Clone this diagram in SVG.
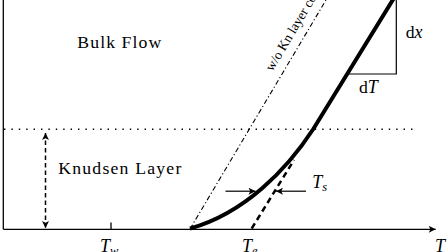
<svg xmlns="http://www.w3.org/2000/svg" width="448" height="252" viewBox="0 0 448 252">
<style>
.txt{font-family:"Liberation Serif","Times New Roman",serif;font-size:17.7px;fill:#000}
.math{font-family:"Liberation Serif","Times New Roman",serif;font-style:italic;font-size:18px;fill:#000}
.sub{font-size:12.5px}
.ax{stroke:#000;stroke-width:1.3;fill:none}
</style>
<defs>
<marker id="arr" viewBox="0 0 10 10" refX="10" refY="5" markerUnits="userSpaceOnUse" markerWidth="9" markerHeight="7" orient="auto-start-reverse">
<path d="M0,0 L10,5 L0,10 L2.5,5 Z" fill="#000"/>
</marker>
</defs>
<rect width="448" height="252" fill="#fff"/>
<g id="connectors">
<line class="ax" x1="3.3" y1="0" x2="3.3" y2="229.3"/>
<line class="ax" x1="3.3" y1="229.3" x2="435.7" y2="229.3" marker-end="url(#arr)"/>
<line x1="111" y1="222.5" x2="111" y2="229.3" stroke="#000" stroke-width="1.3"/>
<line x1="4" y1="129.3" x2="416" y2="129.3" stroke="#000" stroke-width="1.4" stroke-dasharray="1.4 6" />
<line x1="45.5" y1="133" x2="45.5" y2="228" stroke="#000" stroke-width="1.5" stroke-dasharray="4.5 3" marker-start="url(#arr)" marker-end="url(#arr)"/>
<line x1="190" y1="229" x2="326" y2="0" stroke="#000" stroke-width="1.1" stroke-dasharray="5 2.5 1.2 2.5"/>
<path d="M190,228.5 C245,213.1 287.2,169 313.3,129 L394,-2" fill="none" stroke="#000" stroke-width="4"/>
<line x1="251.7" y1="228.5" x2="294" y2="160" stroke="#000" stroke-width="2.5" stroke-dasharray="6 4"/>
<polyline points="348,74 396.3,74 396.3,0" fill="none" stroke="#000" stroke-width="1.2"/>
<line x1="225.5" y1="191.2" x2="255.5" y2="191.2" stroke="#000" stroke-width="1.2" marker-end="url(#arr)"/>
<line x1="306" y1="191.2" x2="276" y2="191.2" stroke="#000" stroke-width="1.2" marker-end="url(#arr)"/>
</g>
<g id="bulk"><text class="txt" x="77.3" y="48.3" textLength="84" lengthAdjust="spacing">Bulk Flow</text></g>
<g id="knudsen"><text class="txt" x="58.3" y="174.3" textLength="123" lengthAdjust="spacing">Knudsen Layer</text></g>
<g id="wo"><text class="txt" style="font-size:13.5px" transform="translate(272.5,72) rotate(-59.3)">w/o Kn layer correction</text></g>
<g id="dx"><text class="txt" x="405.7" y="37.7">d<tspan class="math">x</tspan></text></g>
<g id="dT"><text class="txt" x="359" y="92.7">d<tspan class="math">T</tspan></text></g>
<g id="Ts"><text class="math" x="312.3" y="188.3">T<tspan class="sub" dy="3">s</tspan></text></g>
<g id="Tw"><text class="math" x="100" y="251.5">T<tspan class="sub" dy="3">w</tspan></text></g>
<g id="Te"><text class="math" x="242" y="251.5">T<tspan class="sub" dy="3">e</tspan></text></g>
<g id="T"><text class="math" x="435" y="251.5">T</text></g>
</svg>
